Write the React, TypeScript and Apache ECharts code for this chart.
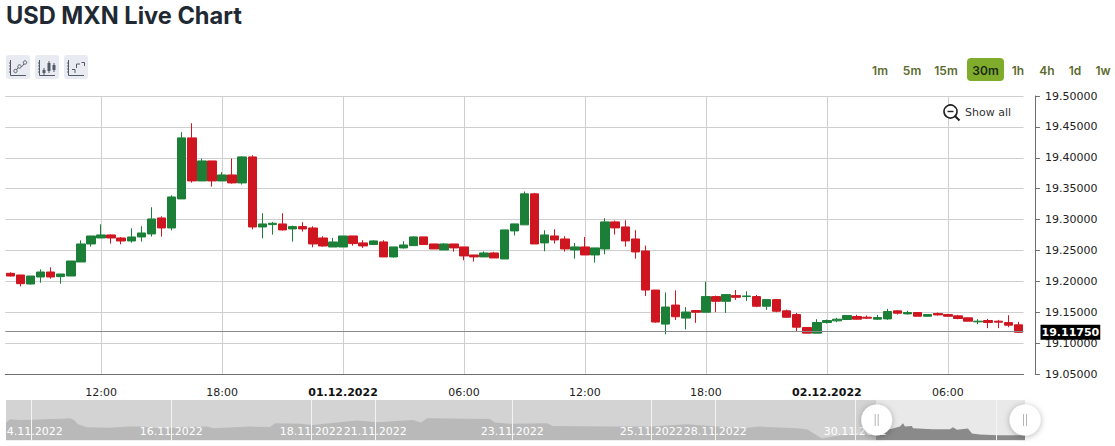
import React, { useEffect, useRef } from "react";
import * as echarts from "echarts";

const startHour = 7.5;
const opens = [19.213,19.2103,19.1957,19.207,19.2151,19.2076,19.2086,19.2313,19.2605,19.2702,19.2751,19.2702,19.2653,19.2718,19.2767,19.3026,19.2864,19.3334,19.4322,19.3625,19.3949,19.3625,19.3722,19.3593,19.4014,19.288,19.2918,19.2929,19.2848,19.2886,19.2864,19.2702,19.2556,19.2556,19.2735,19.2622,19.2595,19.2638,19.2395,19.2541,19.2578,19.2719,19.2605,19.2508,19.2605,19.2557,19.2427,19.2395,19.2459,19.2362,19.2816,19.2914,19.3416,19.2622,19.2735,19.2686,19.2508,19.2557,19.2427,19.2524,19.2962,19.2881,19.2686,19.2492,19.1859,19.1308,19.1616,19.1405,19.1527,19.15,19.1753,19.1677,19.1769,19.1753,19.1753,19.1597,19.1704,19.1522,19.1462,19.1253,19.1161,19.1333,19.136,19.1382,19.143,19.1419,19.1387,19.1392,19.1522,19.1473,19.1495,19.1435,19.1478,19.1462,19.1441,19.1409,19.1344,19.1366,19.1355,19.1333,19.1296];
const closes = [19.2086,19.1962,19.2086,19.2151,19.207,19.2119,19.2329,19.2605,19.2734,19.2751,19.2702,19.2653,19.2718,19.2783,19.301,19.2864,19.3366,19.4322,19.3625,19.3949,19.3625,19.3722,19.3593,19.4014,19.288,19.2929,19.294,19.2832,19.2886,19.2848,19.2605,19.2572,19.2637,19.2734,19.2611,19.2573,19.2654,19.2395,19.2557,19.2589,19.2719,19.2595,19.2524,19.2605,19.2541,19.2411,19.2395,19.2459,19.2378,19.2832,19.293,19.3416,19.2605,19.2751,19.267,19.2524,19.2557,19.2427,19.2541,19.2962,19.2865,19.2654,19.2476,19.1859,19.1341,19.1584,19.1427,19.1503,19.15,19.1753,19.1677,19.1785,19.1742,19.1763,19.1597,19.1704,19.1516,19.1419,19.1258,19.1161,19.1333,19.1366,19.1387,19.1446,19.1387,19.1403,19.1414,19.1511,19.1484,19.1495,19.1435,19.1462,19.1457,19.1435,19.1398,19.1355,19.1355,19.1333,19.1339,19.129,19.1175];
const highs = [19.2146,19.2103,19.2086,19.2194,19.2227,19.2119,19.2329,19.2664,19.2734,19.2923,19.2761,19.2718,19.2859,19.2891,19.3199,19.3053,19.3393,19.4414,19.4559,19.3987,19.3949,19.3766,19.3987,19.4025,19.4041,19.3102,19.2961,19.3102,19.2902,19.2956,19.2891,19.2729,19.2702,19.2734,19.2735,19.2665,19.2665,19.2665,19.2557,19.2649,19.273,19.2719,19.2605,19.2616,19.2605,19.2557,19.2427,19.2486,19.2476,19.2832,19.293,19.3454,19.3432,19.2827,19.2843,19.273,19.2622,19.2719,19.2541,19.3022,19.2984,19.2989,19.2827,19.2578,19.1859,19.1822,19.1854,19.1584,19.1527,19.1995,19.1769,19.1785,19.186,19.1839,19.178,19.1704,19.1704,19.1543,19.1489,19.1253,19.1387,19.1382,19.1409,19.1452,19.1457,19.1446,19.1457,19.1554,19.1527,19.1522,19.15,19.1468,19.1495,19.1473,19.1457,19.1414,19.1387,19.1392,19.1376,19.1452,19.1344];
const lows = [19.2081,19.1919,19.1951,19.1978,19.2043,19.1962,19.2086,19.2313,19.2562,19.2702,19.261,19.2599,19.2626,19.2643,19.2724,19.2724,19.2826,19.3334,19.3598,19.3625,19.3533,19.3625,19.3582,19.3566,19.2842,19.2697,19.2756,19.2821,19.2643,19.2805,19.2551,19.2562,19.2556,19.2556,19.2578,19.2541,19.2595,19.2395,19.2384,19.253,19.2578,19.2595,19.2524,19.2508,19.2481,19.2341,19.2319,19.2395,19.2378,19.2362,19.2741,19.2914,19.2605,19.2486,19.2611,19.2481,19.2368,19.2427,19.2303,19.2438,19.2757,19.2562,19.2368,19.1762,19.133,19.1141,19.1373,19.1222,19.1328,19.15,19.15,19.1489,19.1699,19.1683,19.1581,19.1538,19.15,19.1409,19.1194,19.1161,19.1161,19.1317,19.1339,19.1376,19.1382,19.1392,19.1376,19.1376,19.1462,19.1462,19.1435,19.143,19.1446,19.143,19.1387,19.1355,19.1306,19.1242,19.1242,19.1258,19.1167];
const lastPrice = 19.1175;

const axisMarks: Record<number, string> = {
  9: "12:00", 21: "18:00", 33: "01.12.2022", 45: "06:00",
  57: "12:00", 69: "18:00", 81: "02.12.2022", 93: "06:00",
};
const candleTimes = opens.map((_, i) => {
  const h = startHour + i * 0.5;
  return `${String(Math.floor(h) % 24).padStart(2, "0")}:${h % 1 ? "30" : "00"}`;
});

const yMin = 19.05;
const yMax = 19.5;
const yStep = 0.05;

const overviewDays = [-0.361,-0.304,-0.161,0.024,0.267,0.439,0.553,0.61,0.667,0.796,1.124,1.381,1.553,1.796,2.081,2.51,2.596,3.124,3.41,3.481,3.838,4.024,4.367,4.653,4.939,5.453,5.567,5.653,6.553,6.624,6.839,7.367,7.453,8.267,8.839,9.367,9.796,10.167,10.41,10.939,11.081,11.296,11.553,11.881,12.067];
const overviewPrices = [19.467,19.56,19.541,19.549,19.568,19.577,19.588,19.541,19.423,19.34,19.329,19.357,19.357,19.321,19.329,19.357,19.313,19.357,19.348,19.45,19.439,19.403,19.467,19.522,19.478,19.541,19.467,19.588,19.568,19.467,19.439,19.45,19.376,19.357,19.357,19.423,19.357,19.313,19.357,19.313,19.285,19.027,19.12,19.148,19.211];
const selectedDays = [12.067,12.267,12.41,12.453,12.481,12.581,12.596,12.881,13.124,13.167,13.224,13.381,13.439,13.553,13.796,14.196];
const selectedPrices = [19.211,19.285,19.357,19.45,19.357,19.376,19.313,19.285,19.285,19.34,19.274,19.302,19.164,19.137,19.12,19.12];
const dateDays = [0, 2, 4, 4.914, 6.871, 8.857, 9.771, 11.771];
const dateLabels = ["14.11.2022","16.11.2022","18.11.2022","21.11.2022","23.11.2022","25.11.2022","28.11.2022","30.11.2022"];
const extraLineDay = 13.786;
const overviewMin = -0.361;
const overviewMax = 14.196;
const selectedFrom = 12.067;

const title = "USD MXN Live Chart";
const ranges = ["1m", "5m", "15m", "30m", "1h", "4h", "1d", "1w"];
const activeRange = "30m";
const rangeCentres = [880, 912, 946, 985.5, 1018, 1047, 1075, 1103];

const FONT = "'DejaVu Sans', Verdana, sans-serif";
const UP = "#1b7f37";
const DOWN = "#cf1620";
const GRID = "#cfcfcf";
const AXIS = "#6f6f6f";
const ICON = "#555b66";

function seg(x1: number, y1: number, x2: number, y2: number, color = ICON, width = 1) {
  return { type: "line", silent: true, z: 20, shape: { x1, y1, x2, y2 }, style: { stroke: color, lineWidth: width } };
}

function toolbar() {
  const out: any[] = [];
  [6, 35, 64].forEach((x) => {
    out.push({ type: "rect", silent: true, z: 19, shape: { x, y: 55, width: 24, height: 24, r: 3 }, style: { fill: "#e8ebf2" } });
    out.push(seg(x + 4.5, 60, x + 4.5, 75.5), seg(x + 4.5, 75.5, x + 20, 75.5));
    [63, 66, 69, 72].forEach((y) => out.push(seg(x + 3, y, x + 4.5, y)));
  });
  out.push({ type: "polyline", silent: true, z: 20, shape: { points: [[15.5, 71], [19, 66.5], [22, 66.5], [25, 62.5]] }, style: { stroke: ICON, fill: "none", lineWidth: 1 } });
  [[15.5, 71], [19.5, 66.5], [25, 62.5]].forEach(([cx, cy]) =>
    out.push({ type: "circle", silent: true, z: 21, shape: { cx, cy, r: 1.7 }, style: { fill: "#e8ebf2", stroke: ICON, lineWidth: 1 } }));
  [[44, 70, 73, 68, 75], [49, 63, 71, 61, 73], [54, 65, 70, 63, 72]].forEach(([x, t, b, wt, wb]) => {
    out.push(seg(x, wt, x, wb));
    out.push({ type: "rect", silent: true, z: 21, shape: { x: x - 1.5, y: t, width: 3, height: b - t }, style: { fill: ICON } });
  });
  out.push({ type: "polyline", silent: true, z: 20, shape: { points: [[72, 69.5], [75, 69.5], [75, 73]] }, style: { stroke: ICON, fill: "none", lineWidth: 1 } });
  out.push({ type: "polyline", silent: true, z: 20, shape: { points: [[76.5, 68], [76.5, 64], [80, 64]] }, style: { stroke: ICON, fill: "none", lineWidth: 1 } });
  out.push({ type: "polyline", silent: true, z: 20, shape: { points: [[81.5, 62.5], [84.5, 62.5], [84.5, 66]] }, style: { stroke: ICON, fill: "none", lineWidth: 1 } });
  return out;
}

function rangeButtons() {
  const out: any[] = [
    { type: "rect", silent: true, z: 19, shape: { x: 967, y: 58, width: 37, height: 23, r: 4 }, style: { fill: "#7fad2b" } },
  ];
  ranges.forEach((r, i) => {
    out.push({
      type: "text", silent: true, z: 20, x: rangeCentres[i], y: 70,
      style: {
        text: r, align: "center", verticalAlign: "middle",
        font: "600 12px Inter, sans-serif",
        fill: r === activeRange ? "#1c2a12" : "#5d6b2f",
      },
    });
  });
  return out;
}

function handle(cx: number) {
  return [
    { type: "circle", silent: true, z: 30, shape: { cx, cy: 420, r: 15.5 }, style: { fill: "#fff", shadowBlur: 6, shadowColor: "rgba(0,0,0,0.3)", shadowOffsetY: 1 } },
    { ...seg(cx - 1.5, 414, cx - 1.5, 426, "#b5b5b5"), z: 31 },
    { ...seg(cx + 1.5, 414, cx + 1.5, 426, "#b5b5b5"), z: 31 },
  ];
}

export default function App() {
  const ref = useRef<HTMLDivElement>(null);
  useEffect(() => {
    document.body.style.margin = "0";
    const chart = echarts.init(ref.current!, undefined, { renderer: "svg" });
    const candles = opens.map((o, i) => [o, closes[i], lows[i], highs[i]]);
    const showMark = (i: number) => axisMarks[i] !== undefined;
    chart.setOption({
      animation: false,
      backgroundColor: "#fff",
      textStyle: { fontFamily: FONT },
      title: {
        text: title, left: 6, top: 3, padding: 0,
        textStyle: { fontFamily: "Inter, sans-serif", fontWeight: 700, fontSize: 23.6, color: "#1f2933" },
      },
      grid: [
        { left: 5.3, top: 96, width: 1018.2, height: 278, outerBoundsMode: "none" },
        { left: 6, top: 400, width: 1019, height: 40.3, show: true, backgroundColor: "#d3d3d3", borderWidth: 0, outerBoundsMode: "none" },
      ],
      xAxis: [
        {
          type: "category", gridIndex: 0, data: candleTimes,
          axisLine: { lineStyle: { color: AXIS } },
          axisTick: { alignWithLabel: true, interval: (i: number) => showMark(i), length: 5, lineStyle: { color: AXIS } },
          splitLine: { show: true, alignWithLabel: true, interval: (i: number) => showMark(i), lineStyle: { color: GRID } },
          axisLabel: {
            interval: (i: number) => showMark(i), margin: 13, fontSize: 11, fontFamily: FONT, color: "#222",
            formatter: (_: string, i: number) => {
              const t = axisMarks[i] ?? "";
              return t.includes(".") ? `{b|${t}}` : t;
            },
            rich: { b: { fontWeight: "bold", fontSize: 11, fontFamily: FONT, color: "#111" } },
          },
        },
        {
          type: "value", gridIndex: 1, min: overviewMin, max: overviewMax, z: 6,
          axisLine: { show: false }, axisTick: { show: false }, splitLine: { show: false },
          axisLabel: {
            inside: true, margin: 3, fontSize: 11, fontFamily: FONT, color: "#fff",
            customValues: dateDays, showMinLabel: true, showMaxLabel: true, hideOverlap: false,
            formatter: (v: number) => dateLabels[dateDays.indexOf(v)] ?? "",
          },
        },
      ],
      yAxis: [
        {
          type: "value", gridIndex: 0, position: "right", offset: 11.4,
          min: yMin, max: yMax, interval: yStep,
          axisLine: { show: true, lineStyle: { color: AXIS } },
          axisTick: { show: true, length: 5, lineStyle: { color: AXIS } },
          splitLine: { show: true, lineStyle: { color: GRID } },
          axisLabel: { margin: 10, fontSize: 11, fontFamily: FONT, color: "#222", formatter: (v: number) => v.toFixed(5) },
        },
        { type: "value", gridIndex: 1, show: false, min: 18.98, max: 20.09, splitLine: { show: false } },
      ],
      series: [
        {
          type: "candlestick", xAxisIndex: 0, yAxisIndex: 0, data: candles, barWidth: 9,
          itemStyle: { color: UP, color0: DOWN, borderColor: UP, borderColor0: DOWN, borderWidth: 1 },
          markLine: {
            silent: true, symbol: "none", animation: false,
            lineStyle: { color: "#8a8a8a", type: "solid", width: 1 },
            label: {
              show: true, position: "end", distance: 17, formatter: () => `{p|${lastPrice.toFixed(5)}}`,
              padding: [3, 0, 0, 0],
              rich: { p: { color: "#fff", backgroundColor: "#000", fontWeight: "bold", fontSize: 11, fontFamily: FONT, padding: [2, 1, 2, 1] } },
            },
            data: [{ yAxis: lastPrice }],
          },
        },
        {
          type: "line", xAxisIndex: 1, yAxisIndex: 1, z: 2, showSymbol: false, silent: true,
          data: overviewDays.map((d, i) => [d, overviewPrices[i]]),
          lineStyle: { width: 0 }, areaStyle: { color: "#b9b9b9", opacity: 1 },
          markArea: {
            silent: true, itemStyle: { color: "#e9e9e9" },
            data: [[{ xAxis: selectedFrom }, { xAxis: overviewMax }]],
          },
        },
        {
          type: "line", xAxisIndex: 1, yAxisIndex: 1, z: 3, showSymbol: false, silent: true,
          data: selectedDays.map((d, i) => [d, selectedPrices[i]]),
          lineStyle: { width: 0 }, areaStyle: { color: "#8a8a8a", opacity: 1 },
          markLine: {
            silent: true, symbol: "none", label: { show: false },
            lineStyle: { color: "#f4f4f4", type: "solid", width: 1 },
            data: [...dateDays, extraLineDay].map((d) => ({ xAxis: d })),
          },
        },
      ],
      graphic: [
        ...toolbar(),
        ...rangeButtons(),
        { type: "circle", silent: true, z: 20, shape: { cx: 950.5, cy: 111.5, r: 6.5 }, style: { fill: "#fff", stroke: "#222", lineWidth: 1.6 } },
        seg(947.5, 111.5, 953.5, 111.5, "#222", 1.4),
        seg(955.2, 116.2, 959.5, 120.5, "#222", 2),
        { type: "text", silent: true, z: 20, x: 965, y: 112, style: { text: "Show all", font: `11px ${FONT}`, fill: "#333", verticalAlign: "middle" } },
        ...handle(876.7),
        ...handle(1025),
      ],
    });
    return () => chart.dispose();
  }, []);
  return <div ref={ref} style={{ width: 1115, height: 446 }} />;
}
